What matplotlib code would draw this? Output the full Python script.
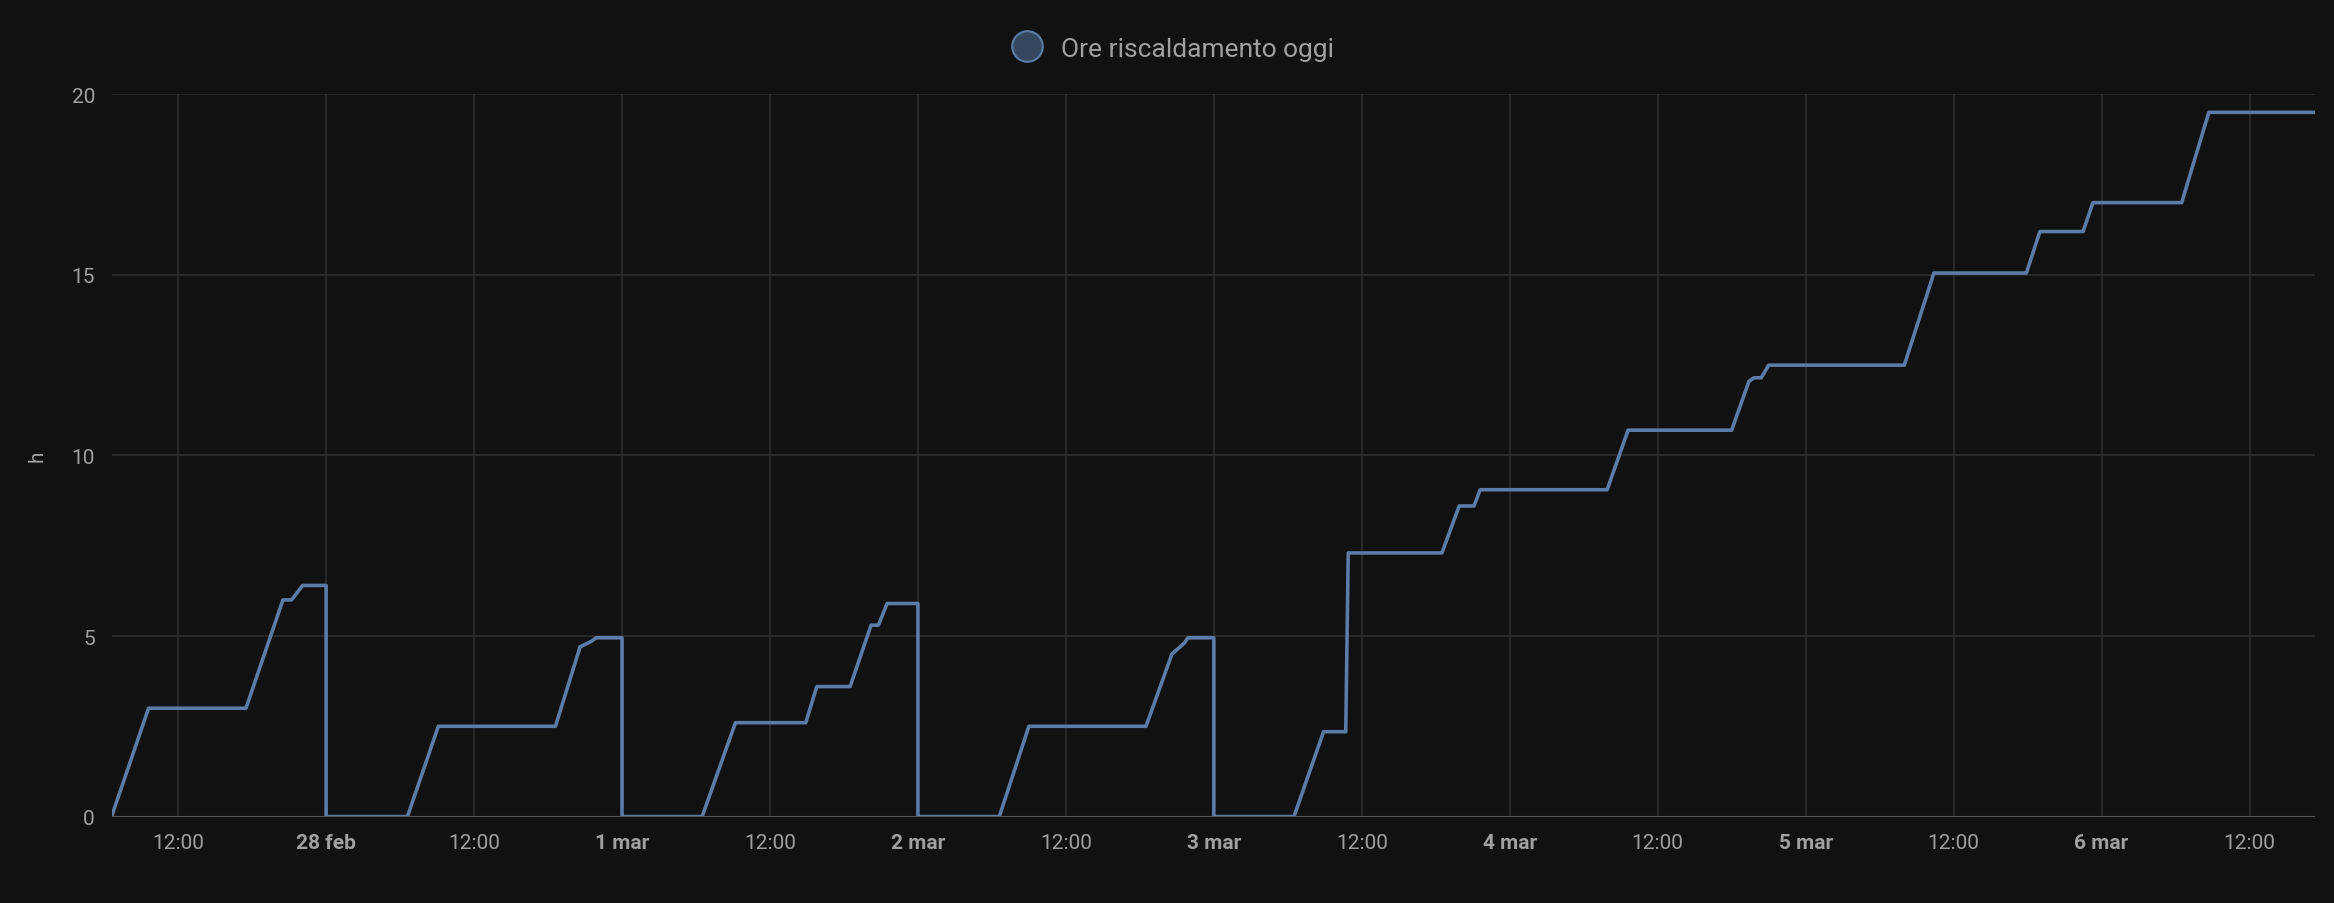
import matplotlib
matplotlib.use("Agg")
import matplotlib.pyplot as plt
import matplotlib.dates as mdates
from matplotlib.lines import Line2D
from datetime import datetime, timedelta

# hours since 27 feb 00:00 and heating hours
hours = [6.6, 9.6, 17.5, 20.5, 21.2, 22.1, 24, 24, 30.6, 33.1, 42.6, 44.6, 45.5, 45.9, 48, 48,
         54.5, 57.2, 62.9, 63.8, 66.5, 68.2, 68.8, 69.5, 72, 72, 78.6, 81, 90.5, 92.6, 93.6, 93.9,
         96, 96, 102.5, 104.9, 106.7, 106.9, 114.5, 115.9, 117.1, 117.6, 127.9, 129.6, 138,
         139.4, 139.8, 140.4, 141, 152, 154.4, 161.9, 163, 166.5, 167.3, 174.5, 176.7, 185.3]
values = [0, 3, 3, 6, 6, 6.4, 6.4, 0, 0, 2.5, 2.5, 4.7, 4.85, 4.95, 4.95, 0,
          0, 2.6, 2.6, 3.6, 3.6, 5.3, 5.3, 5.9, 5.9, 0, 0, 2.5, 2.5, 4.5, 4.8, 4.95,
          4.95, 0, 0, 2.35, 2.35, 7.3, 7.3, 8.6, 8.6, 9.05, 9.05, 10.7, 10.7,
          12.05, 12.15, 12.15, 12.5, 12.5, 15.05, 15.05, 16.2, 16.2, 17, 17, 19.5, 19.5]
day_labels = ["28 feb", "1 mar", "2 mar", "3 mar", "4 mar", "5 mar", "6 mar"]

BG = "#111111"
LINE = "#5a7ca6"
TXT = "#a0a0a0"
GRID = "#303030"

plt.rcParams["font.family"] = ["Roboto", "DejaVu Sans"]
base = datetime(2024, 2, 27)
times = [base + timedelta(hours=h) for h in hours]

fig = plt.figure(figsize=(23.34, 9.04), dpi=100, facecolor=BG)
ax = fig.add_axes([0.0478, 0.0956, 0.944, 0.799], facecolor=BG)
ax.plot(times, values, color=LINE, lw=2.6)

ax.set_xlim(times[0], times[-1])
ax.set_ylim(0, 20)
ax.set_yticks([0, 5, 10, 15, 20])

ticks = []
labels = []
for d in range(7):
    ticks.append(base + timedelta(hours=12 + 24 * d))
    labels.append("12:00")
    ticks.append(base + timedelta(hours=24 * (d + 1)))
    labels.append(day_labels[d])
ticks.append(base + timedelta(hours=12 + 24 * 7))
labels.append("12:00")
ax.set_xticks(ticks)
ax.set_xticklabels(labels)
for t in ax.get_xticklabels():
    if t.get_text() != "12:00":
        t.set_fontweight("bold")

ax.grid(True, color=GRID, lw=1.1)
ax.set_axisbelow(True)
for s in ax.spines.values():
    s.set_visible(False)
ax.axhline(0, color="#555555", lw=1.5)
ax.tick_params(colors=TXT, labelsize=15, length=0, pad=12)
ax.set_ylabel("h", color=TXT, fontsize=15, labelpad=18)

handle = Line2D([], [], ls="", marker="o", ms=22, markerfacecolor="#34475f",
                markeredgecolor=LINE, markeredgewidth=1.5)
fig.legend([handle], ["Ore riscaldamento oggi"], loc="center", bbox_to_anchor=(0.5, 0.945),
           frameon=False, fontsize=19, labelcolor=TXT, handletextpad=0.3)

fig.savefig("out.png", dpi=100, facecolor=BG)
